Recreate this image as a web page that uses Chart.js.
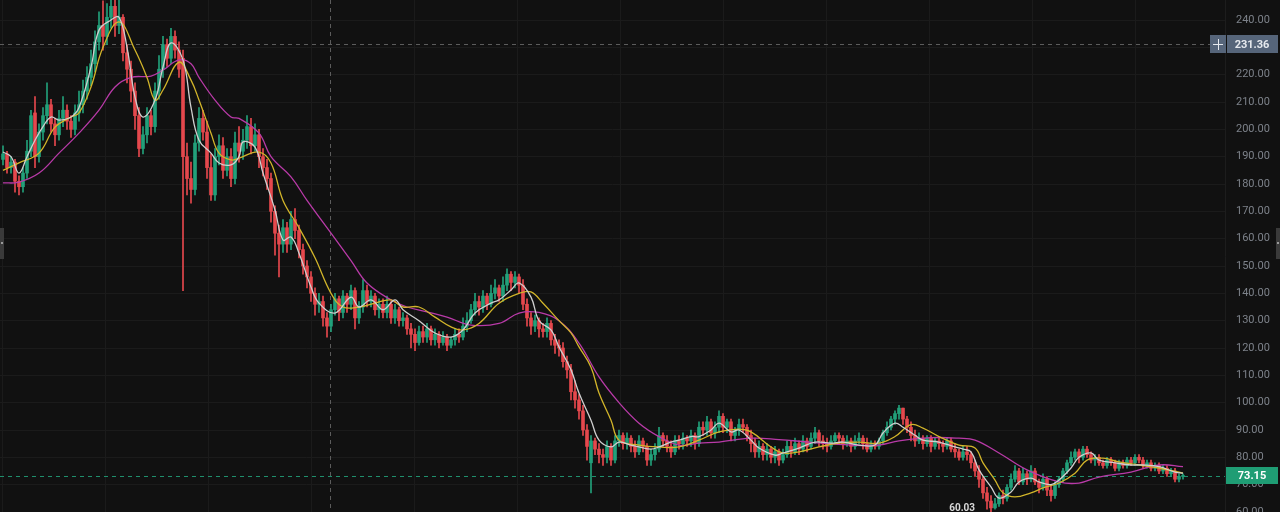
<!DOCTYPE html>
<html>
<head>
<meta charset="utf-8">
<script src="https://cdn.jsdelivr.net/npm/chart.js@4.4.1/dist/chart.umd.min.js"></script>
<style>
  html, body { margin: 0; padding: 0; background: #111111; }
  #wrap { width: 1280px; height: 512px; }
</style>
</head>
<body>
<div id="wrap"><canvas id="priceChart" width="1280" height="512"></canvas></div>
<script>
// candles, oldest first
const opens = [
  189,191,186,188,181, 179,184,192,206,190, 199,205,209,202,198, 204,207,203,200,206,
  209,214,219,224,232, 238,234,241,245,238, 241,228,222,214,205, 193,198,205,201,214,
  222,231,226,234,229, 226,190,182,178,195, 204,199,186,176,190, 194,185,190,182,195,
  192,196,201,194,198, 190,186,182,170,162, 158,164,158,167,163, 156,150,146,140,136,
  137,131,128,134,138, 133,139,136,141,131, 135,141,137,139,134, 136,133,136,131,134,
  130,131,127,125,122, 126,124,127,123,125, 122,124,121,123,125, 124,128,130,134,137,
  135,139,136,140,142, 139,143,147,144,146, 143,136,131,128,130, 127,126,129,123,121,
  120,115,112,104,101, 97,90,78,86,83, 81,80,84,79,86, 88,85,87,84,82,
  86,84,79,81,83, 88,86,84,82,86, 85,87,86,88,85, 91,90,93,89,91,
  95,91,93,88,90, 92,91,88,85,82, 84,81,83,80,82, 79,81,84,82,85,
  83,86,84,87,89, 86,85,84,86,88, 87,85,86,84,86, 87,85,83,85,84,
  86,89,91,94,96, 98,94,91,88,86, 87,85,87,84,86, 85,84,86,83,82,
  80,82,81,78,75, 72,67,64,61.5,63, 66,65,69,72,75, 71,74,72,75,71,
  69,72,68,66,70, 72,75,78,80,82, 80,83,81,79,80, 78,77,79,78,76,
  78,77,79,78,80, 79,77,78,76,77, 75,76,74,75,72,73
];
const highs = [
  194,192,190,189,183, 186,196,207,212,202, 208,217,211,204,207, 212,209,205,209,214,
  218,223,229,236,243, 247,246,249,248,248, 242,231,225,217,208, 201,208,207,217,227,
  234,233,237,236,232, 229,195,188,198,208, 207,203,191,193,198, 197,193,193,199,201,
  200,205,204,202,200, 193,189,184,172,165, 167,166,170,171,165, 158,152,148,142,140,
  139,133,136,140,139, 141,140,143,142,137, 145,143,141,140,138, 138,139,137,136,135,
  133,132,129,127,128, 128,129,128,127,126, 126,125,124,127,127, 131,133,136,140,139,
  141,140,143,145,143, 146,149,148,148,147, 145,138,133,132,131, 129,131,130,125,123,
  122,117,114,108,103, 99,92,88,87,85, 83,86,85,88,90, 89,89,88,86,88,
  87,85,83,85,91, 89,88,86,88,88, 89,88,90,89,93, 93,95,94,93,97,
  96,94,94,91,94, 94,92,90,87,86, 85,85,84,84,83, 83,86,86,87,86,
  88,87,89,91,90, 88,87,88,89,89, 88,88,87,88,89, 88,87,86,86,87,
  90,93,95,97,99, 98,95,93,90,89, 88,88,88,87,87, 86,87,87,85,83,
  84,84,82,79,77, 73,69,66,65,67, 68,70,74,77,76, 76,75,77,76,72,
  74,73,70,71,73, 76,79,82,83,83, 84,84,82,81,81, 79,80,80,79,79,
  79,80,80,81,81, 80,79,79,78,78, 77,77,76,76,74,74
];
const lows = [
  187,184,184,177,176, 177,182,190,186,188, 196,202,199,194,196, 201,200,197,198,203,
  206,211,216,221,229, 229,231,237,234,235, 225,217,210,200,190, 191,195,198,199,211,
  219,223,224,226,219, 141,176,173,176,192, 196,182,174,174,187, 182,183,179,180,188,
  189,193,191,192,186, 183,178,166,154,146, 155,155,156,160,153, 147,142,137,132,133,
  128,124,126,132,130, 131,133,134,127,129, 133,135,135,132,131, 131,131,129,129,128,
  128,125,120,119,121, 122,122,121,121,120, 121,119,120,121,122, 123,126,129,132,132,
  133,134,135,138,137, 137,141,141,142,140, 134,128,125,126,124, 124,124,121,118,117,
  113,109,101,98,94, 88,79,67,81,78, 77,78,77,78,84, 83,83,82,80,81,
  82,77,77,79,82, 84,82,80,81,83, 83,84,84,83,84, 88,88,87,87,89,
  89,89,86,86,88, 89,86,82,80,80, 79,79,78,78,77, 78,80,80,81,81,
  82,82,83,85,84, 83,82,83,85,85, 83,84,82,83,85, 83,82,82,83,83,
  85,88,90,92,94, 92,89,86,84,85, 83,84,82,83,83, 82,83,82,80,79,
  79,79,76,73,69, 65,61,60.03,61,62, 63,64,68,71,70, 70,70,71,70,67,
  68,66,64,65,69, 71,74,77,79,78, 79,80,78,77,77, 76,76,77,75,75,
  76,76,77,77,78, 76,76,75,75,74, 74,73,73,71,71,72
];
const closes = [
  191,186,188,181,179, 184,192,205,190,199, 205,209,202,198,204, 207,203,200,206,209,
  214,219,224,232,238, 234,241,245,238,241, 228,222,214,205,193, 198,205,201,214,222,
  231,226,234,229,222, 190,182,178,195,204, 199,186,176,190,194, 185,190,182,195,192,
  196,201,194,198,190, 186,182,170,162,158, 164,158,167,163,156, 150,146,140,136,137,
  131,128,134,138,133, 139,136,141,131,135, 141,137,139,134,136, 133,136,131,134,130,
  131,127,125,122,126, 124,127,123,125,122, 124,121,123,125,124, 128,130,134,137,135,
  139,136,140,142,139, 143,147,144,146,143, 136,131,128,130,127, 126,129,123,121,120,
  115,112,104,101,97, 90,84,86,83,81, 80,84,79,86,88, 85,87,84,82,86,
  84,79,81,83,88, 86,84,82,86,85, 87,86,88,85,91, 90,93,89,91,95,
  91,93,88,90,92, 91,88,85,82,84, 81,83,80,82,79, 81,84,82,85,83,
  86,84,87,89,86, 85,84,86,88,87, 85,86,84,86,87, 85,83,85,84,86,
  89,91,94,96,98, 94,91,88,86,87, 85,87,84,86,85, 84,86,83,82,80,
  82,81,78,75,72, 67,64,61.5,63,66, 65,69,72,75,71, 74,72,75,71,69,
  72,68,66,70,72, 75,78,80,82,80, 83,81,79,80,78, 77,79,78,76,78,
  77,79,78,80,79, 77,78,76,77,75, 76,74,75,72,73,73.15
];

// moving averages: [candle index, value]
const maFast = [
  [0,191.7],[2,190],[4,184],[6,190],[8,196],[10,201],[12,204.5],[14,203.4],[17,204.5],[19,208],
  [22,222.8],[24,236.3],[27,240],[29,241],[31,230],[33,211.8],[35,204.5],[38,210.7],[40,222.8],[42,231.6],
  [45,225.4],[47,208],[49,196],[52,191.3],[54,187.7],[57,187],[59,190],[60,195.4],[63,193.5],[65,184],
  [68,170.5],[70,159.5],[72,160.6],[74,154.7],[77,142.3],[79,136.4],[83,132.8],[87,138.6],[89,135],[92,137.6],
  [95,134],[98,137.6],[100,134],[104,130],[108,125.5],[112,124],[115,126.6],[118,132.8],[122,136.4],[124,137.6],
  [127,141.2],[129,143.8],[132,138.6],[134,130],[137,126.6],[139,120.4],[142,112],[144,103.5],[147,93.6],[149,86.3],
  [152,83.8],[154,85.6],[157,84.5],[159,83.8],[162,83],[164,83.8],[167,85.6],[169,86.3],[172,87.6],[174,87.6],
  [177,90],[179,92.5],[182,89.3],[184,90],[187,86.3],[189,83.4],[193,80.8],[195,81.6],[199,83.4],[203,85.6],
  [207,85.2],[210,85.6],[214,84.5],[218,84.5],[220,88.9],[223,92.5],[225,91],[228,88.1],[230,86.3],[234,85.6],
  [238,83.8],[240,83],[242,82],[244,75.4],[247,69.2],[249,65.1],[252,67.3],[254,71],[257,72.4],[259,71],
  [262,70],[264,71.7],[267,76.1],[269,80],[272,81.6],[274,79],[278,78],[282,77.2],[285,77.2],[289,76.6],
  [293,74.6],[295,74.2]
];
const maMid = [
  [0,185],[4,187.7],[9,191.3],[13,200.8],[17,204.5],[19,206],[22,215.5],[25,230],[29,239.3],[33,229],
  [36,219],[38,210.7],[40,214.4],[44,224.6],[47,218],[49,210.7],[52,198.6],[54,191.3],[57,188.8],[59,189.5],
  [64,191.7],[67,187.7],[70,174],[74,164],[78,153],[82,140],[85,135],[89,135],[93,136.4],[97,137.6],
  [100,135],[104,135],[108,131.3],[112,127.7],[115,126.6],[119,129],[124,136.4],[129,140],[132,140.5],[135,136.4],
  [139,130],[142,125.5],[144,120.4],[147,113],[149,103.5],[152,93.6],[154,86.3],[159,84.5],[164,83.8],[169,83.8],
  [174,86.3],[179,89.3],[184,90.3],[187,89.3],[192,83.8],[195,81.6],[199,82],[204,83.8],[209,85.2],[214,85.6],
  [219,85.2],[223,87.6],[227,92],[230,90.7],[234,87.6],[239,84.5],[243,83.4],[245,78],[248,71.7],[250,67],
  [253,65.5],[257,67],[260,68.8],[264,70.6],[268,74.2],[271,79],[275,79.7],[279,78.3],[284,77.2],[289,76.1],
  [295,74.2]
];
const maSlow = [
  [0,180.4],[4,180.7],[9,184],[14,191.3],[19,198.6],[24,207],[28,215.5],[32,219],[37,219.5],[40,221.7],
  [44,225.4],[47,224],[49,219],[53,210.7],[57,204.5],[59,204],[64,198.6],[67,190],[72,182.6],[76,174],
  [82,162],[87,152],[91,143.8],[97,137.6],[101,135],[106,133.2],[111,131.3],[117,128.4],[124,129],[129,132.8],
  [134,133],[139,130],[144,121.8],[149,109.4],[154,100],[159,92.5],[164,87.6],[169,84.5],[174,85.2],[179,85.6],
  [187,87],[194,86.5],[202,85.5],[212,84.5],[219,84.5],[224,86],[232,87.2],[239,87],[243,86.3],[249,81.6],
  [256,75.4],[264,71],[269,70.6],[274,72.8],[282,74.6],[289,77.2],[295,76.6]
];

const crossIndex = 81.75;
const crossPrice = 231.36;
const lastPrice = 73.15;
const lowIndex = 247;
const lowPrice = 60.03;

const UP = '#22a07a';
const DOWN = '#e5484d';
const candleColors = closes.map((c, i) => c >= opens[i] ? UP : DOWN);

const toXY = arr => arr.map(p => ({ x: p[0], y: p[1] }));

const overlay = {
  id: 'overlay',
  beforeDraw(chart) {
    const ctx = chart.ctx;
    ctx.save();
    ctx.fillStyle = '#111111';
    ctx.fillRect(0, 0, chart.width, chart.height);
    ctx.restore();
  },
  beforeDatasetsDraw(chart) {
    const { ctx, chartArea, scales } = chart;
    const cx = scales.x.getPixelForValue(crossIndex);
    const cy = scales.y.getPixelForValue(crossPrice);
    const ly = scales.y.getPixelForValue(lastPrice);
    ctx.save();
    ctx.lineWidth = 1;
    ctx.setLineDash([4, 4]);
    ctx.strokeStyle = '#5c5c5c';
    ctx.beginPath();
    ctx.moveTo(Math.round(cx) + 0.5, 0);
    ctx.lineTo(Math.round(cx) + 0.5, chart.height);
    ctx.moveTo(chartArea.left, Math.round(cy) + 0.5);
    ctx.lineTo(chartArea.right, Math.round(cy) + 0.5);
    ctx.stroke();
    ctx.strokeStyle = '#1f8f6c';
    ctx.beginPath();
    ctx.moveTo(chartArea.left, Math.round(ly) + 0.5);
    ctx.lineTo(chartArea.right, Math.round(ly) + 0.5);
    ctx.stroke();
    ctx.restore();
  },
  afterDraw(chart) {
    const { ctx, chartArea, scales } = chart;
    const right = chartArea.right;
    const cy = scales.y.getPixelForValue(crossPrice);
    const ly = scales.y.getPixelForValue(lastPrice);
    ctx.save();
    // crosshair price tag
    ctx.fillStyle = '#56657a';
    ctx.fillRect(right + 2, Math.round(cy) - 9, 51, 18);
    ctx.fillRect(right - 15, Math.round(cy) - 9, 16, 18);
    ctx.strokeStyle = '#e6e9ee';
    ctx.lineWidth = 1;
    ctx.beginPath();
    ctx.moveTo(right - 12, Math.round(cy) + 0.5);
    ctx.lineTo(right - 2, Math.round(cy) + 0.5);
    ctx.moveTo(right - 6.5, Math.round(cy) - 5);
    ctx.lineTo(right - 6.5, Math.round(cy) + 6);
    ctx.stroke();
    ctx.font = 'bold 11px Roboto';
    ctx.textBaseline = 'middle';
    ctx.textAlign = 'center';
    ctx.fillStyle = '#e6e9ee';
    ctx.fillText(crossPrice.toFixed(2), right + 27, Math.round(cy) + 1);
    // last price tag
    ctx.fillStyle = '#1f9d74';
    ctx.fillRect(right + 1, Math.round(ly) - 9, 52, 17);
    ctx.fillStyle = '#ffffff';
    ctx.fillText(lastPrice.toFixed(2), right + 27, Math.round(ly));
    // lowest price mark
    const lx = scales.x.getPixelForValue(lowIndex);
    const lyLow = scales.y.getPixelForValue(lowPrice);
    ctx.font = 'bold 10px Roboto';
    ctx.textAlign = 'right';
    ctx.fillStyle = '#d8d8d8';
    ctx.fillText(lowPrice.toFixed(2), lx - 16, lyLow - 3);
    // edge tabs
    ctx.fillStyle = '#3a3a3a';
    ctx.fillRect(0, 228, 4, 31);
    ctx.fillRect(chart.width - 4, 228, 4, 31);
    ctx.fillStyle = '#9a9a9a';
    ctx.fillRect(1, 242, 2, 2);
    ctx.fillRect(chart.width - 3, 242, 2, 2);
    ctx.restore();
  }
};

const gridStart = 12.75;
const gridStep = 25.75;

const ctx = document.getElementById('priceChart').getContext('2d');
const chart = new Chart(ctx, {
  type: 'bar',
  data: {
    datasets: [
      {
        label: 'MA fast',
        type: 'line',
        data: toXY(maFast),
        borderColor: '#cfcfcf',
        borderWidth: 1.3,
        pointRadius: 0,
        tension: 0.4,
        order: 0
      },
      {
        label: 'MA mid',
        type: 'line',
        data: toXY(maMid),
        borderColor: '#d2b52a',
        borderWidth: 1.3,
        pointRadius: 0,
        tension: 0.4,
        order: 0
      },
      {
        label: 'MA slow',
        type: 'line',
        data: toXY(maSlow),
        borderColor: '#b93aa8',
        borderWidth: 1.3,
        pointRadius: 0,
        tension: 0.4,
        order: 0
      },
      {
        label: 'Body',
        data: closes.map((c, i) => ({ x: i, y: [opens[i], c] })),
        backgroundColor: candleColors,
        barThickness: 3,
        minBarLength: 1,
        grouped: false,
        borderWidth: 0,
        order: 1
      },
      {
        label: 'Wick',
        data: lows.map((l, i) => ({ x: i, y: [l, highs[i]] })),
        backgroundColor: candleColors,
        barThickness: 1,
        grouped: false,
        borderWidth: 0,
        order: 2
      }
    ]
  },
  options: {
    responsive: false,
    animation: false,
    events: [],
    layout: { padding: 0 },
    plugins: {
      legend: { display: false },
      tooltip: { enabled: false }
    },
    scales: {
      x: {
        type: 'linear',
        min: -0.75,
        max: 305.5,
        offset: false,
        afterBuildTicks: s => {
          const t = [];
          for (let v = gridStart; v <= s.max; v += gridStep) t.push({ value: v });
          s.ticks = t;
        },
        afterFit: s => { s.height = 0; s.paddingLeft = 0; s.paddingRight = 0; },
        ticks: { display: false },
        border: { display: false },
        grid: { color: '#1b1b1b', drawTicks: false }
      },
      y: {
        position: 'right',
        min: 60,
        max: 247.32,
        afterFit: s => { s.width = 55; s.paddingTop = 0; s.paddingBottom = 0; },
        ticks: {
          stepSize: 10,
          includeBounds: false,
          padding: 11,
          color: '#7d828a',
          font: { family: 'Roboto', size: 11 },
          callback: v => v.toFixed(2)
        },
        border: { display: true, color: '#1d1d1d' },
        grid: { color: '#1b1b1b', drawTicks: false }
      }
    }
  },
  plugins: [overlay]
});
</script>
</body>
</html>
